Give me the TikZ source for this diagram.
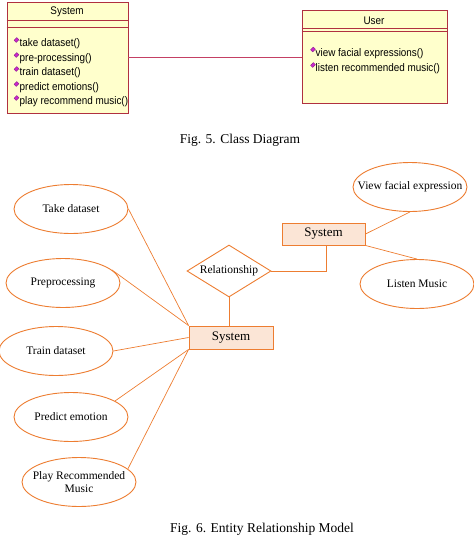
\documentclass[tikz,border=0pt]{standalone}
\usepackage{fontspec}
\setmainfont{Liberation Serif}
\newfontfamily\umlfont[FakeStretch=0.9]{Liberation Sans}
\usetikzlibrary{shapes.geometric}
\definecolor{umlfill}{HTML}{FFFFCC}
\definecolor{umlline}{RGB}{176,48,64}
\definecolor{umllink}{RGB}{196,64,100}
\definecolor{umlicon}{RGB}{204,40,204}
\definecolor{erline}{HTML}{ED7D31}
\definecolor{erfill}{HTML}{FBE5D6}
\begin{document}
\begin{tikzpicture}[x=1pt,y=-1pt,
    classbox/.style={draw=umlline, fill=umlfill, line width=0.8pt, inner sep=0pt},
    umltext/.style={font=\umlfont\fontsize{11}{13}\selectfont, inner sep=0pt},
    optext/.style={umltext, anchor=west},
    erentity/.style={draw=erline, fill=erfill, line width=0.9pt, minimum width=84, minimum height=23,
        inner sep=0pt, font=\fontsize{13}{15}\selectfont},
    erattr/.style={ellipse, draw=erline, line width=0.9pt, fill=white, minimum width=114, minimum height=49,
        inner xsep=-20pt, inner ysep=0pt, align=center, font=\fontsize{11.5}{13.5}\selectfont},
    errel/.style={diamond, draw=erline, line width=0.9pt, fill=white, aspect=1.6, minimum width=84,
        minimum height=52, inner sep=0pt, font=\fontsize{11.5}{13.5}\selectfont},
    erlink/.style={draw=erline, line width=0.7pt},
    caption/.style={font=\fontsize{13.5}{16}\selectfont, inner sep=0pt}]
    \useasboundingbox (0,0) rectangle (474,539);
    % class diagram
    \node[classbox, minimum width=121, minimum height=111] (sysclass) at (67.5,57.5) {};
    \node[umltext] (systitle) at (67,12) {System};
    \draw[umlline, line width=0.8pt] (sysclass.west |- 0,20) -- (sysclass.east |- 0,20);
    \draw[umlline, line width=0.8pt] (sysclass.west |- 0,27) -- (sysclass.east |- 0,27);
    \foreach \y/\opname/\optxt in {44/takeop/take dataset(), 59/preop/pre-processing(),
        73/trainop/train dataset(), 88/predop/predict emotions(), 102/playop/play recommend music()} {
        \fill[umlicon, draw=umlicon!60!black, line width=0.2pt, rotate around={45:(16.5,\y-4)}]
            (14.5,\y-5.5) rectangle (18.5,\y-2.5);
        \node[optext] (\opname) at (19.5,\y) {\optxt};
    }
    \node[classbox, minimum width=145, minimum height=93] (userclass) at (374.5,56.5) {};
    \node[umltext] (usertitle) at (374,21) {User};
    \draw[umlline, line width=0.8pt] (userclass.west |- 0,28.5) -- (userclass.east |- 0,28.5);
    \draw[umlline, line width=0.8pt] (userclass.west |- 0,31) -- (userclass.east |- 0,31);
    \foreach \y/\opname/\optxt in {53.5/viewop/view facial expressions(), 69/listenop/listen recommended music()} {
        \fill[umlicon, draw=umlicon!60!black, line width=0.2pt, rotate around={45:(313,\y-4)}]
            (311,\y-5.5) rectangle (315,\y-2.5);
        \node[optext] (\opname) at (315.5,\y) {\optxt};
    }
    \draw[umllink, line width=0.8pt] (sysclass.east) -- (sysclass.east -| userclass.west);
    \node[caption] (figfive) at (240,140) {Fig. 5. Class Diagram};
    % entity relationship model
    \node[erattr] (takeds) at (71,209) {Take dataset};
    \node[erattr] (preproc) at (63,283) {Preprocessing};
    \node[erattr] (trainds) at (56,351) {Train dataset};
    \node[erattr] (predemo) at (71,417) {Predict emotion};
    \node[erattr] (playmus) at (79,482) {Play Recommended\\Music};
    \node[erattr] (viewexp) at (410,187) {View facial expression};
    \node[erattr] (listenmus) at (417,284) {Listen Music};
    \node[erentity] (ersys) at (231,337.5) {System};
    \node[erentity, minimum width=83, minimum height=22] (topsys) at (323.5,234) {System};
    \node[errel] (rel) at (229,271) {Relationship};
    \draw[erlink] (takeds.east) -- (ersys.north west);
    \draw[erlink] (preproc.15) -- (ersys.north west);
    \draw[erlink] (trainds.east) -- (ersys.west);
    \draw[erlink] (predemo.20) -- (ersys.south west);
    \draw[erlink] (playmus.15) -- (ersys.south west);
    \draw[erlink] (rel.south) -- (rel.south |- ersys.north);
    \draw[erlink] (rel.east) -| ([xshift=2.5pt]topsys.south);
    \draw[erlink] (topsys.east) -- (viewexp.south);
    \draw[erlink] (topsys.south east) -- (listenmus.north);
    \node[caption] (figsix) at (262,529) {Fig. 6. Entity Relationship Model};
\end{tikzpicture}
\end{document}
